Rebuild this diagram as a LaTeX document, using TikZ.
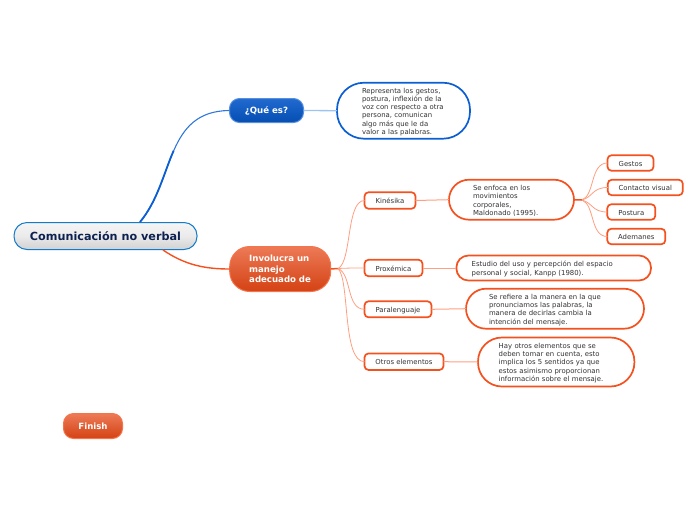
\documentclass[tikz,border=0pt]{standalone}
\usepackage{fontspec}
\setmainfont{DejaVu Sans}
\usetikzlibrary{positioning}

\definecolor{rojizo}{HTML}{F4511E}
\definecolor{salmon}{HTML}{FF9E80}
\definecolor{azul}{HTML}{0B5FD3}
\definecolor{celeste}{HTML}{9CC4F2}
\definecolor{marino}{HTML}{0D2150}

\pgfdeclareverticalshading{brilloNaranja}{100bp}{
  color(0bp)=(rojizo!65!white); color(16bp)=(rojizo!82!black);
  color(30bp)=(rojizo!88!black); color(100bp)=(rojizo!60!white)}
\pgfdeclareverticalshading{brilloAzul}{100bp}{
  color(0bp)=(azul!60!white); color(14bp)=(azul!75!black);
  color(35bp)=(azul!88!black); color(100bp)=(azul!85!white)}
\pgfdeclareverticalshading{brilloGris}{100bp}{
  color(0bp)=(white); color(20bp)=(black!20); color(50bp)=(black!8); color(100bp)=(white)}

\tikzset{
  base/.style={rectangle,inner sep=0pt,outer sep=0pt,align=center},
  central/.style={base,draw=cyan!60!blue,line width=1pt,shading=brilloGris,text=marino,
    rounded corners=13pt,font=\fontsize{11.2}{13}\selectfont\bfseries},
  rama/.style={base,shading=brilloNaranja,text=white,draw=rojizo!80!white,line width=1pt,
    font=\fontsize{8.6}{10.6}\selectfont\bfseries},
  caja/.style={base,draw=rojizo,fill=white,line width=1.7pt,rounded corners=4pt,text=black!80,
    text height=6.2,text depth=0,font=\fontsize{6.9}{8.25}\selectfont},
  memo/.style={base,draw=rojizo,fill=white,line width=1.7pt,text=black!80,align=left,rounded corners=20pt,
    font=\fontsize{6.9}{8.25}\selectfont,execute at begin node={\leavevmode\rule{0pt}{7.4pt}}},
  ligaM/.style={salmon,line width=1pt},
  fina/.style={salmon,line width=0.8pt},
}

\begin{document}
\begin{tikzpicture}[x=1pt,y=-1pt]
        \useasboundingbox (0,0) rectangle (696,520);
        % centro y ramas
        \node[central,minimum width=183,minimum height=27] (raiz) at (105.5,236) {Comunicación no verbal};
        \node[rama,shading=brilloAzul,draw=azul!70!white,rounded corners=10pt,minimum width=74,minimum height=24] (quees) at (266.5,110.5) {¿Qué es?};
        \node[rama,rounded corners=20pt,align=left,text width=62,inner xsep=19.5,minimum height=45] (inv) at (280.2,269) {Involucra un\\manejo\\adecuado de};
        \node[rama,rounded corners=10pt,minimum width=59,minimum height=25] (fin) at (93,426) {Finish};
        % textos
        \node[memo,draw=azul,rounded corners=27pt,text width=83,inner xsep=25,minimum height=56] (repr) at (403.5,110.7) {Representa los gestos,\\postura, inflexión de la\\voz con respecto a otra\\persona, comunican\\algo más que le da\\valor a las palabras.};
        \node[memo,text width=77,inner xsep=24,minimum height=40] (enf) at (511.5,199.7) {Se enfoca en los\\movimientos\\corporales,\\Maldonado (1995).};
        \node[memo,rounded corners=12pt,text width=164,inner xsep=15.3,minimum height=25] (est) at (553.7,268) {Estudio del uso y percepción del espacio\\personal y social, Kanpp (1980).};
        \node[memo,text width=132,inner xsep=23,minimum height=40] (ref) at (555,308.7) {Se refiere a la manera en la que\\pronunciamos las palabras, la\\manera de decirlas cambia la\\intención del mensaje.};
        \node[memo,rounded corners=24pt,text width=115,inner xsep=20.7,minimum height=49] (hay) at (556.2,362) {Hay otros elementos que se\\deben tomar en cuenta, esto\\implica los 5 sentidos ya que\\estos asimismo proporcionan\\información sobre el mensaje.};
        % subtemas
        \node[caja,minimum width=51,minimum height=16.5] (kin) at (390,200.5) {Kinésika};
        \node[caja,minimum width=58,minimum height=16.5] (prox) at (393.5,268) {Proxémica};
        \node[caja,minimum width=67,minimum height=16] (para) at (398,309.3) {Paralenguaje};
        \node[caja,minimum width=79,minimum height=16.5] (otros) at (404,361.7) {Otros elementos};
        \node[caja,minimum width=46,minimum height=15.5] (ges) at (630.5,163) {Gestos};
        \node[caja,minimum width=75,minimum height=15.5] (con) at (645.3,187.5) {Contacto visual};
        \node[caja,minimum width=48,minimum height=15.5] (pos) at (631.3,212) {Postura};
        \node[caja,minimum width=58,minimum height=15.5] (ade) at (636.3,236.5) {Ademanes};
        % conectores
        \coordinate (raizA) at (140,222);
        \coordinate (raizB) at (163,250);
        \coordinate (raizM) at (173.6,150.75);
        \coordinate (invS) at (338,268.5);
        \coordinate (enfS) at (582,200);
        \draw[azul!85!white,line width=1.1pt] (raizA) .. controls (175,180) and (165,111) .. (quees.west);
        \draw[azul,line width=1.8pt] (raizA) .. controls (157.5,201) and (163.75,173.25) .. (raizM);
        \draw[rojizo,line width=1.4pt] (raizB) .. controls (185,265) and (205,269) .. (inv.west);
        \draw[celeste,line width=1.3pt] (quees.east) -- (repr.west);
        \draw[rojizo,line width=1.5pt] (inv.east) -- (invS);
        \draw[rojizo,line width=1.5pt] (enf.east) -- (enfS);
        \draw[fina] (invS) .. controls (352,262) and (346,200.5) .. (kin.west);
        \draw[fina] (invS) .. controls (348,268) and (354,268) .. (prox.west);
        \draw[fina] (invS) .. controls (352,274) and (346,309.3) .. (para.west);
        \draw[fina] (invS) .. controls (350,280) and (342,361.7) .. (otros.west);
        \draw[ligaM] (kin.east) -- (enf.west);
        \draw[ligaM] (prox.east) -- (est.west);
        \draw[ligaM] (para.east) -- (ref.west);
        \draw[ligaM] (otros.east) -- (hay.west);
        \draw[fina] (enfS) .. controls (595,195) and (590,163) .. (ges.west);
        \draw[fina] (enfS) .. controls (593,197) and (592,187.5) .. (con.west);
        \draw[fina] (enfS) .. controls (593,203) and (592,212) .. (pos.west);
        \draw[fina] (enfS) .. controls (595,205) and (590,236.5) .. (ade.west);
    \end{tikzpicture}
\end{document}
